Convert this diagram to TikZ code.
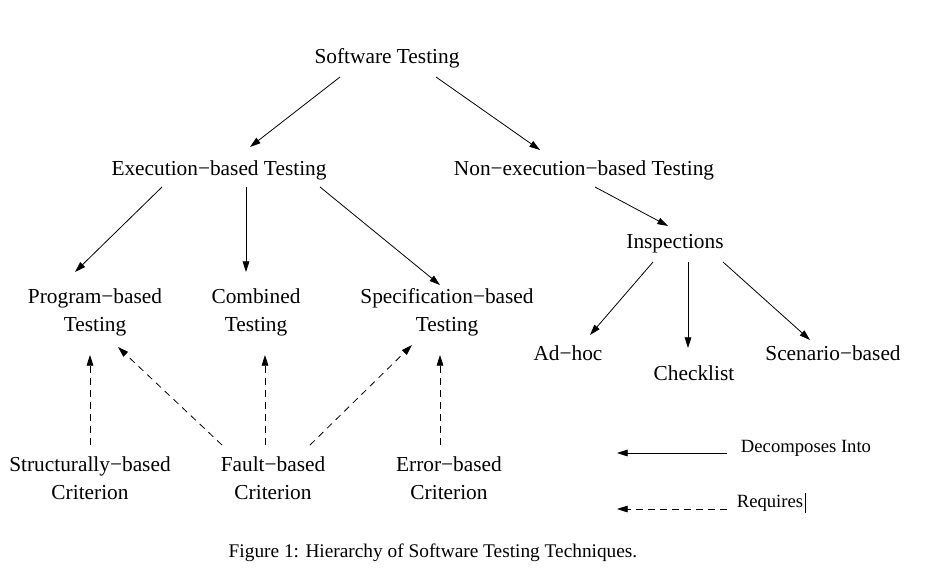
\documentclass[tikz,border=0pt]{standalone}
\usepackage{fontspec}
\setmainfont{Liberation Serif}
\usetikzlibrary{arrows.meta,calc}
\begin{document}
\begin{tikzpicture}[x=0.75pt,y=-0.75pt,
  lbl/.style={font=\fontsize{16}{21}\selectfont,align=center,inner sep=0pt},
  dec/.style={draw,-{Triangle[length=8pt,width=5pt]},line width=0.6pt},
  req/.style={dec,dash pattern=on 5pt off 4pt}]
\useasboundingbox (0,0) rectangle (927,572);
\node[lbl] (st) at (387,58) {Software Testing};
\node[lbl] (ex) at (219,170) {Execution−based Testing};
\node[lbl] (ne) at (584,170) {Non−execution−based Testing};
\node[lbl] (in) at (675,244) {Inspections};
\node[lbl] (pb) at (95,312) {Program−based\\Testing};
\node[lbl] (cb) at (256,312) {Combined\\Testing};
\node[lbl] (sb) at (447,312) {Specification−based\\Testing};
\node[lbl] (ah) at (568,353) {Ad−hoc};
\node[lbl] (cl) at (694,373) {Checklist};
\node[lbl] (sc) at (833,353) {Scenario−based};
\node[lbl] (sr) at (90,478) {Structurally−based\\Criterion};
\node[lbl] (fb) at (273,478) {Fault−based\\Criterion};
\node[lbl] (eb) at (449,478) {Error−based\\Criterion};
\node[lbl,font=\fontsize{14}{17}\selectfont] (l1) at (806,448) {Decomposes Into};
\node[lbl,font=\fontsize{14}{17}\selectfont] (l2) at (770,503) {Requires};
\draw[line width=0.5pt] ($(l2.east)+(2,-10)$) -- ($(l2.east)+(2,10)$);
\node[lbl,font=\fontsize{14.5}{17}\selectfont] (cap) at (433,553) {Figure 1: Hierarchy of Software Testing Techniques.};
\coordinate (a1) at (727,453); \coordinate (a2) at (617,453);
\coordinate (b1) at (727,509); \coordinate (b2) at (617,509);
\path[dec] (a1) -- (a2);
\path[req] (b1) -- (b2);
\path[dec] ($(st)+(-47,19)$) -- ($(ex)+(31,-23)$);
\path[dec] ($(st)+(49,19)$) -- ($(ne)+(-44,-20)$);
\path[dec] ($(ex)+(-57,17)$) -- ($(pb)+(-20,-40)$);
\path[dec] ($(ex)+(27,17)$) -- ($(cb)+(-10,-40)$);
\path[dec] ($(ex)+(101,17)$) -- ($(sb)+(-7,-27)$);
\path[dec] ($(ne)+(11,17)$) -- ($(in)+(-7,-18)$);
\path[dec] ($(in)+(-22,18)$) -- ($(ah)+(22,-18)$);
\path[dec] ($(in)+(13,18)$) -- ($(cl)+(-6,-25)$);
\path[dec] ($(in)+(48,18)$) -- ($(sc)+(-23,-13)$);
\path[req] ($(sr)+(0,-33)$) -- ($(pb)+(-5,43)$);
\path[req] ($(fb)+(-51,-33)$) -- ($(pb)+(23,35)$);
\path[req] ($(fb)+(-8,-33)$) -- ($(cb)+(9,43)$);
\path[req] ($(fb)+(37,-33)$) -- ($(sb)+(-35,33)$);
\path[req] ($(eb)+(-9,-33)$) -- ($(sb)+(-7,43)$);
\end{tikzpicture}
\end{document}
